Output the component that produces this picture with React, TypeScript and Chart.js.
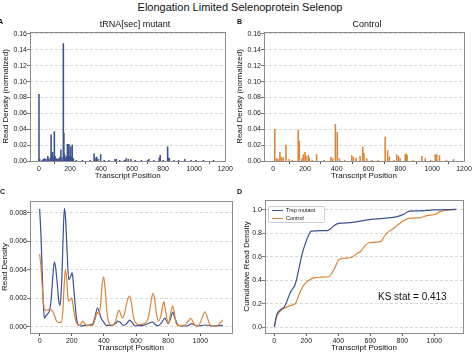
import React, { useEffect, useRef } from 'react';
import { Chart, registerables } from 'chart.js';

Chart.register(...registerables);

const FONT = '"Liberation Sans", Arial, Helvetica, sans-serif';
const BLUE = '#3d5190';
const ORANGE = '#d8853d';

// ---- Panel A: tRNA[sec] mutant read density (bars)
const mutantPos = [0, 4, 20, 28, 36, 45, 57, 62, 72, 78, 83, 88, 94, 99, 104, 112, 120, 128, 135, 141, 148, 157, 160, 165, 172, 178, 183, 188, 193, 198, 204, 209, 214, 222, 240, 280, 330, 355, 361, 372, 380, 397, 420, 450, 490, 498, 520, 550, 561, 575, 592, 620, 660, 700, 708, 740, 775, 781, 800, 829, 835, 840, 870, 900, 939, 980, 1012, 1060, 1125];
const mutantVal = [0.084, 0.002, 0.001, 0.002, 0.003, 0.002, 0.006, 0.002, 0.004, 0.033, 0.010, 0.011, 0.005, 0.037, 0.006, 0.003, 0.002, 0.003, 0.005, 0.014, 0.004, 0.148, 0.035, 0.008, 0.004, 0.006, 0.021, 0.020, 0.021, 0.006, 0.018, 0.005, 0.020, 0.003, 0.001, 0.001, 0.001, 0.009, 0.004, 0.005, 0.002, 0.008, 0.001, 0.001, 0.002, 0.002, 0.001, 0.001, 0.003, 0.002, 0.002, 0.001, 0.001, 0.001, 0.002, 0.001, 0.004, 0.007, 0.001, 0.018, 0.004, 0.003, 0.001, 0.001, 0.002, 0.001, 0.001, 0.001, 0.001];

// ---- Panel B: Control read density (bars)
const controlPos = [10, 21, 30, 42, 52, 63, 80, 100, 120, 157, 164, 180, 189, 200, 206, 220, 227, 245, 273, 320, 363, 374, 391, 403, 416, 450, 494, 504, 521, 546, 563, 571, 588, 620, 660, 704, 720, 731, 760, 777, 788, 798, 830, 836, 842, 880, 935, 956, 990, 1019, 1029, 1046, 1090, 1134];
const controlVal = [0.040, 0.003, 0.002, 0.011, 0.005, 0.004, 0.020, 0.002, 0.001, 0.039, 0.025, 0.003, 0.008, 0.011, 0.006, 0.007, 0.004, 0.001, 0.008, 0.001, 0.005, 0.003, 0.046, 0.036, 0.003, 0.001, 0.007, 0.005, 0.004, 0.006, 0.018, 0.010, 0.003, 0.001, 0.001, 0.030, 0.013, 0.005, 0.001, 0.008, 0.006, 0.003, 0.008, 0.009, 0.007, 0.001, 0.006, 0.003, 0.001, 0.008, 0.008, 0.007, 0.001, 0.002];

// ---- Panel C: smoothed read density
const smoothMutPos = [0, 8, 15, 22, 29, 40, 50, 60, 70, 80, 92, 100, 110, 118, 127, 134, 140, 147, 154, 162, 170, 181, 192, 202, 210, 217, 227, 237, 255, 290, 330, 345, 360, 372, 383, 400, 415, 446, 470, 487, 503, 519, 540, 560, 575, 592, 644, 690, 702, 715, 737, 760, 779, 790, 800, 815, 828, 845, 862, 915, 946, 980, 1030, 1081, 1140];
const smoothMutVal = [0.00826, 0.0065, 0.0042, 0.0018, 0.0006, 0.0008, 0.0009, 0.0011, 0.0017, 0.0032, 0.00456, 0.0041, 0.003, 0.0019, 0.0015, 0.0024, 0.004, 0.0066, 0.0083, 0.0075, 0.0055, 0.0033, 0.0035, 0.0038, 0.003, 0.0021, 0.0008, 0.0002, 0.00005, 0.0001, 0.0002, 0.0007, 0.00133, 0.001, 0.0006, 0.0003, 0.0001, 0.0001, 0.0002, 0.0004, 0.0003, 0.0001, 0.0002, 0.00047, 0.0003, 0.00007, 0.0001, 0.0003, 0.00035, 0.0002, 0.00007, 0.0003, 0.0006, 0.0004, 0.00023, 0.0006, 0.001, 0.0005, 0.0001, 0.00005, 0.0002, 0.00005, 0.00012, 0.00005, 0.0001];
const smoothCtlPos = [0, 8, 15, 22, 29, 40, 55, 71, 85, 95, 105, 120, 135, 145, 152, 160, 168, 175, 181, 190, 200, 210, 220, 232, 248, 262, 270, 280, 295, 330, 345, 358, 368, 378, 388, 398, 408, 418, 430, 446, 470, 484, 494, 504, 515, 528, 545, 560, 572, 582, 595, 623, 645, 665, 680, 695, 706, 716, 727, 740, 755, 766, 773, 781, 800, 815, 827, 838, 848, 865, 900, 925, 940, 952, 967, 990, 1010, 1029, 1045, 1060, 1090, 1110, 1125, 1140];
const smoothCtlVal = [0.0051, 0.0042, 0.003, 0.0019, 0.00125, 0.00115, 0.0012, 0.0012, 0.001, 0.0007, 0.0004, 0.0003, 0.00032, 0.0012, 0.0028, 0.004, 0.0034, 0.0022, 0.0018, 0.0019, 0.002, 0.0013, 0.0006, 0.0002, 0.0001, 0.0003, 0.0004, 0.0002, 0.0001, 0.0001, 0.0005, 0.001, 0.0009, 0.0014, 0.0028, 0.0035, 0.0026, 0.0011, 0.0003, 0.0001, 0.0003, 0.0009, 0.00117, 0.0009, 0.0006, 0.0009, 0.0018, 0.00215, 0.0016, 0.0008, 0.0003, 0.00015, 0.0002, 0.00035, 0.0008, 0.0019, 0.00234, 0.0019, 0.0009, 0.0004, 0.0008, 0.0015, 0.00175, 0.0013, 0.0002, 0.0009, 0.00147, 0.001, 0.0003, 0.0001, 0.0001, 0.0004, 0.00058, 0.0004, 0.0001, 0.0001, 0.0006, 0.00105, 0.0006, 0.00015, 0.00005, 0.0001, 0.0003, 0.00047];

// ---- Panel D: cumulative read density
const cumMutPos = [0, 15, 40, 64, 81, 102, 133, 154, 175, 195, 216, 231, 331, 351, 372, 403, 476, 580, 684, 767, 809, 844, 913, 996, 1137];
const cumMutVal = [0, 0.105, 0.15, 0.175, 0.23, 0.30, 0.375, 0.50, 0.63, 0.716, 0.79, 0.82, 0.824, 0.838, 0.866, 0.886, 0.892, 0.915, 0.929, 0.943, 0.963, 0.99, 0.992, 1.0, 1.005];
const cumCtlPos = [0, 15, 40, 71, 102, 133, 154, 185, 216, 247, 289, 341, 372, 403, 434, 480, 518, 539, 570, 590, 663, 694, 715, 746, 767, 798, 840, 913, 954, 1006, 1037, 1079, 1137];
const cumCtlVal = [0, 0.09, 0.14, 0.168, 0.185, 0.205, 0.275, 0.36, 0.40, 0.42, 0.426, 0.43, 0.49, 0.574, 0.588, 0.594, 0.63, 0.645, 0.70, 0.72, 0.73, 0.787, 0.815, 0.843, 0.866, 0.90, 0.928, 0.934, 0.952, 0.963, 0.986, 0.997, 1.005];

// ---- tick labels
const xTicksAB = [0, 200, 400, 600, 800, 1000, 1200];
const yTicksAB = [0, 0.02, 0.04, 0.06, 0.08, 0.10, 0.12, 0.14, 0.16];
const xTicksCD = [0, 200, 400, 600, 800, 1000];
const yTicksC = [0, 0.002, 0.004, 0.006, 0.008];
const yTicksD = [0, 0.2, 0.4, 0.6, 0.8, 1.0];

const pts = (xs: number[], ys: number[]) => xs.map((x, i) => ({ x, y: ys[i] }));

const framePlugin = {
  id: 'frame',
  afterDatasetsDraw(chart: any) {
    const { ctx, chartArea } = chart;
    const { left, top, right, bottom } = chartArea;
    ctx.save();
    ctx.strokeStyle = '#8c8c8c';
    ctx.lineWidth = 1;
    ctx.strokeRect(Math.round(left) + 0.5, Math.round(top) + 0.5, Math.round(right - left), Math.round(bottom - top));
    ctx.restore();
  },
};

const scaleX = (min: number, max: number, ticks: number[], height: number, titlePad: number) => ({
  type: 'linear',
  min,
  max,
  offset: false,
  afterBuildTicks: (s: any) => {
    s.ticks = ticks.map((v) => ({ value: v }));
  },
  afterFit: (s: any) => {
    s.height = height;
  },
  grid: { drawOnChartArea: false, drawTicks: true, tickLength: 3, tickColor: '#555' },
  border: { display: false },
  ticks: {
    font: { family: FONT, size: 7 },
    color: '#222',
    padding: 1,
    maxRotation: 0,
    autoSkip: false,
    callback: (v: any) => String(v),
  },
  title: {
    display: true,
    text: 'Transcript Position',
    font: { family: FONT, size: 8 },
    color: '#111',
    padding: { top: 0, bottom: titlePad },
  },
});

const scaleY = (min: number, max: number, ticks: number[], digits: number, text: string, width: number, titlePad: number) => ({
  type: 'linear',
  min,
  max,
  afterBuildTicks: (s: any) => {
    s.ticks = ticks.map((v) => ({ value: v }));
  },
  afterFit: (s: any) => {
    s.width = width;
  },
  grid: { color: '#cdcdcd', lineWidth: 0.8, drawTicks: true, tickLength: 3, tickColor: '#555', tickBorderDash: [] },
  border: { display: false, dash: [3, 2] },
  ticks: {
    font: { family: FONT, size: 7 },
    color: '#222',
    padding: 0,
    autoSkip: false,
    callback: (v: any) => Number(v).toFixed(digits),
  },
  title: {
    display: true,
    text,
    font: { family: FONT, size: 8 },
    color: '#111',
    padding: { top: titlePad, bottom: 0 },
  },
});

const baseOpts = (padding: any) => ({
  responsive: false,
  animation: false as const,
  devicePixelRatio: 1,
  layout: { padding },
  plugins: { legend: { display: false }, tooltip: { enabled: false }, title: { display: false } },
});

const makeA = () => ({
  type: 'bar',
  data: {
    datasets: [
      {
        data: pts(mutantPos, mutantVal),
        backgroundColor: BLUE,
        borderWidth: 0,
        barThickness: 0.9,
      },
    ],
  },
  options: {
    ...baseOpts({ top: 32, right: 4, left: 0, bottom: 0 }),
    scales: {
      x: scaleX(-58, 1200, xTicksAB, 25, 5),
      y: scaleY(0, 0.1625, yTicksAB, 2, 'Read Density (normalized)', 30, 1),
    },
  },
  plugins: [framePlugin],
});

const makeB = () => ({
  type: 'bar',
  data: {
    datasets: [
      {
        data: pts(controlPos, controlVal),
        backgroundColor: ORANGE,
        borderWidth: 0,
        barThickness: 0.9,
      },
    ],
  },
  options: {
    ...baseOpts({ top: 32, right: 10, left: 0, bottom: 0 }),
    scales: {
      x: scaleX(-58, 1200, xTicksAB, 25, 5),
      y: scaleY(0, 0.1625, yTicksAB, 2, 'Read Density (normalized)', 30, 1),
    },
  },
  plugins: [framePlugin],
});

const lineDs = (xs: number[], ys: number[], color: string, label: string) => ({
  label,
  data: pts(xs, ys),
  borderColor: color,
  backgroundColor: color,
  borderWidth: 1.2,
  pointRadius: 0,
  fill: false,
  cubicInterpolationMode: 'monotone',
});

const makeC = () => ({
  type: 'line',
  data: {
    datasets: [
      lineDs(smoothCtlPos, smoothCtlVal, ORANGE, 'Control'),
      lineDs(smoothMutPos, smoothMutVal, BLUE, 'Trsp mutant'),
    ],
  },
  options: {
    ...baseOpts({ top: 15, right: 2, left: 0, bottom: 0 }),
    scales: {
      x: scaleX(-60, 1197, xTicksCD, 20, 0),
      y: scaleY(-0.00044, 0.00882, yTicksC, 3, 'Read Density', 30, 0),
    },
  },
  plugins: [framePlugin],
});

const makeD = () => ({
  type: 'line',
  data: {
    datasets: [
      lineDs(cumMutPos, cumMutVal, BLUE, 'Trsp mutant'),
      lineDs(cumCtlPos, cumCtlVal, ORANGE, 'Control'),
    ],
  },
  options: {
    ...baseOpts({ top: 14, right: 11, left: 0, bottom: 0 }),
    scales: {
      x: scaleX(-58, 1179, xTicksCD, 20, 0),
      y: scaleY(-0.05, 1.085, yTicksD, 1, 'Cumulative Read Density', 31, 8),
    },
  },
  plugins: [framePlugin],
});

function ChartBox({ left, top, width, height, make }: any) {
  const ref = useRef<HTMLCanvasElement>(null);
  useEffect(() => {
    const chart = new Chart(ref.current as HTMLCanvasElement, make() as any);
    return () => chart.destroy();
  }, []);
  return (
    <canvas
      ref={ref}
      width={width}
      height={height}
      style={{ position: 'absolute', left, top, width, height, display: 'block' }}
    />
  );
}

const abs = (left: number, top: number, extra: any = {}) => ({ position: 'absolute' as const, left, top, whiteSpace: 'nowrap' as const, ...extra });

export default function App() {
  return (
    <div
      style={{
        position: 'absolute',
        left: 0,
        top: 0,
        width: 474,
        height: 353,
        overflow: 'hidden',
        background: '#fff',
        fontFamily: FONT,
        color: '#111',
      }}
    >
      <div style={abs(3, 0, { width: 474, textAlign: 'center', fontSize: 11, lineHeight: '14px' })}>
        Elongation Limited Selenoprotein Selenop
      </div>

      <ChartBox left={0} top={0} width={234} height={186} make={makeA} />
      <ChartBox left={234} top={0} width={240} height={186} make={makeB} />
      <ChartBox left={0} top={186} width={234} height={167} make={makeC} />
      <ChartBox left={234} top={186} width={240} height={167} make={makeD} />

      <div style={abs(85, 18, { width: 100, textAlign: 'center', fontSize: 9, lineHeight: '12px' })}>tRNA[sec] mutant</div>
      <div style={abs(317, 18, { width: 100, textAlign: 'center', fontSize: 9, lineHeight: '12px' })}>Control</div>

      <div style={abs(-2, 17, { fontSize: 7, fontWeight: 'bold', lineHeight: '9px' })}>A</div>
      <div style={abs(237, 17, { fontSize: 7, fontWeight: 'bold', lineHeight: '9px' })}>B</div>
      <div style={abs(0, 187, { fontSize: 7, fontWeight: 'bold', lineHeight: '9px' })}>C</div>
      <div style={abs(237, 187, { fontSize: 7, fontWeight: 'bold', lineHeight: '9px' })}>D</div>

      <div
        style={abs(268, 206, {
          width: 55,
          height: 15,
          border: '1px solid #cfcfcf',
          borderRadius: 2,
          background: '#fff',
          fontSize: 5.5,
          lineHeight: '7px',
        })}
      >
        <div style={{ position: 'absolute', left: 3, top: 3, width: 11, height: 1.2, background: BLUE }} />
        <div style={{ position: 'absolute', left: 17, top: 0 }}>Trsp mutant</div>
        <div style={{ position: 'absolute', left: 3, top: 11, width: 11, height: 1.2, background: ORANGE }} />
        <div style={{ position: 'absolute', left: 17, top: 8 }}>Control</div>
      </div>

      <div style={abs(378, 290, { fontSize: 10, lineHeight: '13px' })}>KS stat = 0.413</div>
    </div>
  );
}
